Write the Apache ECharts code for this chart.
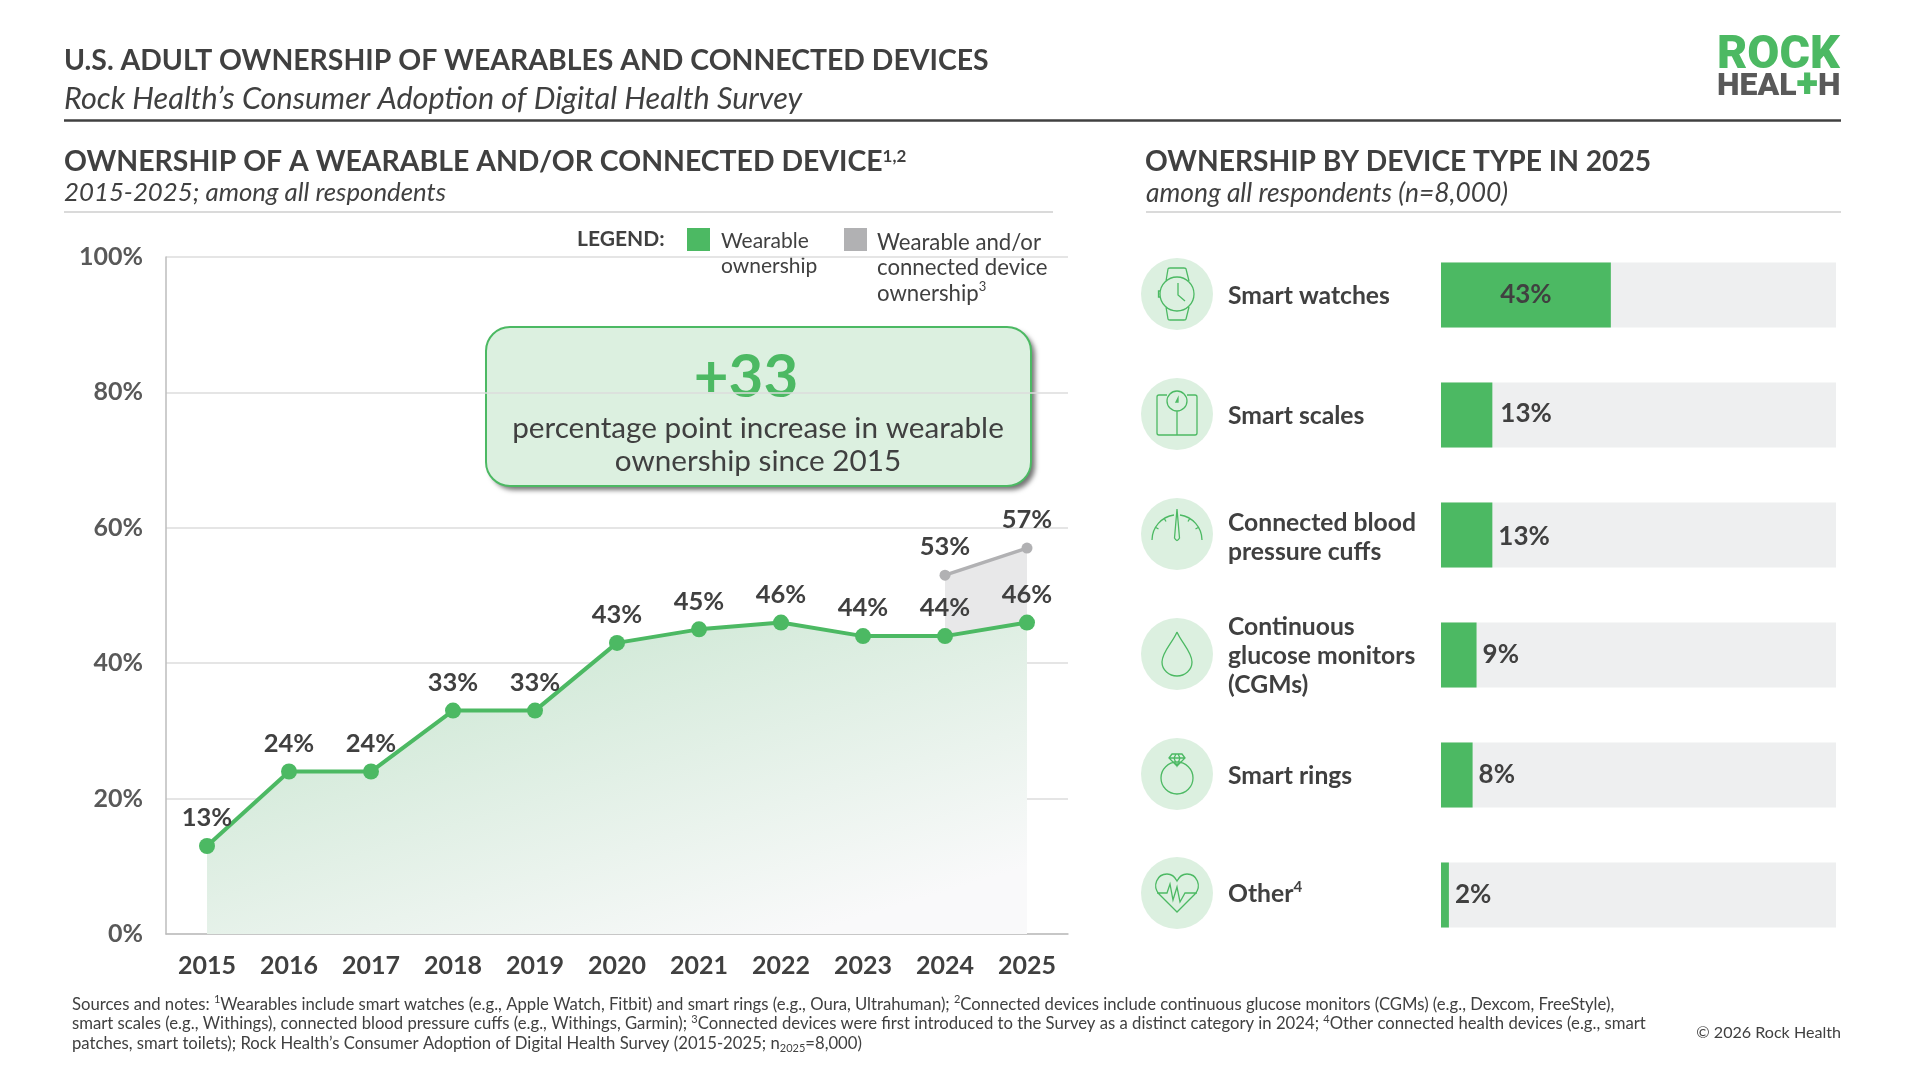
<!DOCTYPE html>
<html>
<head>
<meta charset="utf-8">
<title>U.S. adult ownership of wearables and connected devices</title>
<script src="https://cdn.jsdelivr.net/npm/echarts@6/dist/echarts.min.js"></script>
<style>
  html, body { margin: 0; padding: 0; background: #fff; }
  #chart { width: 1920px; height: 1080px; }
</style>
</head>
<body>
<div id="chart"></div>
<script>
// Survey years and percentages
const years = ['2015', '2016', '2017', '2018', '2019', '2020', '2021', '2022', '2023', '2024', '2025'];
const wearableOwnership = [13, 24, 24, 33, 33, 43, 45, 46, 44, 44, 46];
const wearableOrConnected = [null, null, null, null, null, null, null, null, null, 53, 57];
const percentTicks = [0, 20, 40, 60, 80, 100];

// Device types in 2025
const deviceTypes = ['Smart watches', 'Smart scales', 'Connected blood\npressure cuffs', 'Continuous\nglucose monitors\n(CGMs)', 'Smart rings', 'Other{sup|4}'];
const deviceOwnership = [43, 13, 13, 9, 8, 2];

const FONT = 'Lato';
const INK = '#404040';
const GREEN = '#4CB963';
const MINT = '#DCF0E0';
const GREY = '#B1B1B3';

const text = (x, y, str, size, extra) => ({
  type: 'text', x, y,
  style: Object.assign({ text: str, fontFamily: FONT, fontSize: size, fill: INK, verticalAlign: 'middle', align: 'left' }, extra || {})
});
const rule = (x1, x2, y, color, width) => ({
  type: 'line', shape: { x1, y1: y, x2, y2: y }, style: { stroke: color, lineWidth: width }
});

// Small circle as a path fragment, for use in the icon outlines
const ring = (cx, cy, r) => `M${cx + r} ${cy}A${r} ${r} 0 1 1 ${cx - r} ${cy}A${r} ${r} 0 1 1 ${cx + r} ${cy}`;
// Device icon outlines, centred on the origin, registered as graphic shapes
const iconOutlines = [
  // watch
  ring(0, 0, 17) + 'M-11 -13L-9 -25Q-9 -26 -7 -26L7 -26Q9 -26 9 -25L12 -13M-11 13L-9 25Q-9 26 -7 26L7 26Q9 26 9 25L12 13M-17 -3L-18.5 -3L-18.5 3L-17 3M1 -11L1 1L8 7',
  // bathroom scale
  ring(0, -13, 10) + 'M-10 -19L-18 -19Q-20 -19 -20 -17L-20 19Q-20 21 -18 21L18 21Q20 21 20 19L20 -17Q20 -19 18 -19L10 -19M0 -3L0 21M1 -16L-1 -12L1 -12Z',
  // blood pressure gauge
  'M-25 6A25.5 25.5 0 0 1 -3 -19M3 -19A25.5 25.5 0 0 1 25 6M-22 -7L-18.5 -5M-13 -16L-11 -12.5M22 -7L18.5 -5M13 -16L11 -12.5M0 -25L-2.5 4Q0 9 2.5 4L0 -25',
  // drop
  'M0 -22C-4 -12 -15 -2 -15 8C-15 16 -8 22 0 22C8 22 15 16 15 8C15 -2 4 -12 0 -22',
  // ring with a stone
  ring(0, 4, 16) + 'M-8 -16L-5 -20L5 -20L8 -16L0 -8ZM-8 -16L8 -16M-3 -16L0 -8L3 -16M-3 -16L-1 -20M3 -16L1 -20',
  // heart with a pulse trace
  'M0 19L-18 1C-25 -7 -20 -19 -10 -19C-5 -19 -2 -16 0 -12C2 -16 5 -19 10 -19C20 -19 25 -7 18 1ZM-20 0L-10 0L-7 -9L-4 7L0 -6L3 9L8 0L20 0'
];
const iconRows = [294, 414, 534, 654, 774, 893];
iconOutlines.forEach((d, i) => echarts.graphic.registerShape('deviceIcon' + i, echarts.graphic.extendPath(d, {})));

const icons = iconOutlines.map((d, i) => ({
  type: 'group', x: 1177, y: iconRows[i],
  children: [
    { type: 'circle', shape: { cx: 0, cy: 0, r: 36 }, style: { fill: MINT } },
    { type: 'deviceIcon' + i, style: { fill: null, stroke: GREEN, lineWidth: 1.3 } }
  ]
}));

// Per-row nudges for the labels beside the bars
const barLabelNudge = { 1: [2, -1], 2: [0, 2] };
const rowLabelPadding = { 2: [6, 0, 0, 0], 3: [3, 0, 0, 0], 5: [0, 0, 2, 0] };

const footnote =
  'Sources and notes: {s|1}Wearables include smart watches (e.g., Apple Watch, Fitbit) and smart rings (e.g., Oura, Ultrahuman); {s|2}Connected devices include continuous glucose monitors (CGMs) (e.g., Dexcom, FreeStyle),\n' +
  'smart scales (e.g., Withings), connected blood pressure cuffs (e.g., Withings, Garmin); {s|3}Connected devices were first introduced to the Survey as a distinct category in 2024; {s|4}Other connected health devices (e.g., smart\n' +
  'patches, smart toilets); Rock Health\u2019s Consumer Adoption of Digital Health Survey (2015-2025; n{b|2025}=8,000)';

const calloutBox = { x: 486, y: 327, width: 545, height: 159, r: 24 };

const chart = echarts.init(document.getElementById('chart'), null, { renderer: 'canvas' });
chart.setOption({
  animation: false,
  backgroundColor: '#fff',
  textStyle: { fontFamily: FONT },
  grid: [
    { left: 166, top: 257, width: 902, height: 677 },
    { left: 1441, top: 235, width: 395, height: 720 }
  ],
  xAxis: [
    {
      gridIndex: 0, type: 'category', data: years,
      axisTick: { show: false },
      axisLine: { lineStyle: { color: '#BDBDBD', width: 1.5 } },
      axisLabel: { fontFamily: FONT, fontSize: 25, fontWeight: 'bold', color: INK, margin: 19 }
    },
    { gridIndex: 1, type: 'value', min: 0, max: 100, show: false }
  ],
  yAxis: [
    {
      gridIndex: 0, type: 'value', min: 0, max: 100, interval: 20,
      axisLine: { show: true, lineStyle: { color: '#BDBDBD', width: 1.5 } },
      axisTick: { show: false },
      axisLabel: {
        fontFamily: FONT, fontSize: 25, fontWeight: 'bold', color: '#595959', margin: 23,
        formatter: (v) => percentTicks.includes(v) ? v + '%' : ''
      },
      splitLine: { lineStyle: { color: '#DCDCDC', width: 1.5 } }
    },
    {
      gridIndex: 1, type: 'category', inverse: true,
      data: deviceTypes.map((value, i) => ({ value, textStyle: { align: 'left', padding: rowLabelPadding[i] || [2, 0, 0, 0] } })),
      axisLine: { show: false }, axisTick: { show: false },
      axisLabel: {
        align: 'left', margin: 213, fontFamily: FONT, fontSize: 24.7, fontWeight: 'bold', color: INK, lineHeight: 29,
        rich: { sup: { fontFamily: FONT, fontSize: 15, fontWeight: 'bold', lineHeight: 16, color: INK, verticalAlign: 'top' } }
      }
    }
  ],
  series: [
    {
      name: 'Wearable and/or connected device ownership', type: 'line', xAxisIndex: 0, yAxisIndex: 0,
      data: wearableOrConnected, z: 3,
      symbol: 'circle', symbolSize: 11,
      lineStyle: { color: GREY, width: 3.5 }, itemStyle: { color: GREY },
      areaStyle: { color: '#E8E8E9', opacity: 1 },
      label: { show: true, position: 'top', distance: 10, fontFamily: FONT, fontSize: 25.5, fontWeight: 'bold', color: INK, formatter: '{c}%' }
    },
    {
      name: 'Wearable ownership', type: 'line', xAxisIndex: 0, yAxisIndex: 0,
      data: wearableOwnership, z: 4,
      symbol: 'circle', symbolSize: 16,
      lineStyle: { color: GREEN, width: 4 }, itemStyle: { color: GREEN },
      areaStyle: {
        opacity: 1,
        color: new echarts.graphic.LinearGradient(0, 0, 0.167, 1.45, [
          { offset: 0, color: '#C4E4CC' },
          { offset: 1, color: '#F9F9FA' }
        ])
      },
      label: { show: true, position: 'top', distance: 7, fontFamily: FONT, fontSize: 25.5, fontWeight: 'bold', color: INK, formatter: '{c}%' }
    },
    {
      name: '2025 device ownership', type: 'bar', xAxisIndex: 1, yAxisIndex: 1,
      data: deviceOwnership.map((value, i) => ({
        value,
        label: i === 0 ? { position: 'inside' } : { position: 'right', distance: 6, offset: barLabelNudge[i] || [0, 0] }
      })),
      barWidth: 65,
      showBackground: true, backgroundStyle: { color: '#EEEFF0' },
      itemStyle: { color: GREEN },
      label: { show: true, fontFamily: FONT, fontSize: 26, fontWeight: 'bold', color: INK, formatter: '{c}%' }
    }
  ],
  graphic: { elements: [
    // Header
    text(64, 61, 'U.S. ADULT OWNERSHIP OF WEARABLES AND CONNECTED DEVICES', 28.4, { fontWeight: 'bold' }),
    text(64, 99, 'Rock Health\u2019s Consumer Adoption of Digital Health Survey', 30.6, { fontStyle: 'italic' }),
    rule(64, 1841, 120.5, INK, 2.5),

    // Logo
    text(1717, 56, 'ROCK', 46.5, { fontFamily: 'Roboto', fontWeight: 900, fill: GREEN }),
    { type: 'text', x: 1717, y: 87, style: {
      text: 'HEAL{p|+}H', fontFamily: 'Roboto', fontWeight: 900, fontSize: 32, fill: '#595959', verticalAlign: 'middle',
      rich: { p: { fontFamily: 'Roboto', fontWeight: 900, fontSize: 40, fill: GREEN } }
    } },

    // Section headings
    { type: 'text', x: 64, y: 162, style: {
      text: 'OWNERSHIP OF A WEARABLE AND/OR CONNECTED DEVICE{s|1,2}', fontFamily: FONT, fontSize: 28.4, fontWeight: 'bold', fill: INK, verticalAlign: 'middle',
      rich: { s: { fontFamily: FONT, fontWeight: 'bold', fontSize: 17, lineHeight: 18, fill: INK, verticalAlign: 'top' } }
    } },
    text(64, 193, '2015-2025; among all respondents', 25.8, { fontStyle: 'italic' }),
    rule(64, 1053, 212, '#B5B5B5', 1.2),
    text(1145, 162, 'OWNERSHIP BY DEVICE TYPE IN 2025', 28.2, { fontWeight: 'bold' }),
    text(1146, 193, 'among all respondents (n=8,000)', 26.4, { fontStyle: 'italic' }),
    rule(1146, 1841, 212, '#B5B5B5', 1.2),

    // Legend panel, masking the top gridline
    { type: 'rect', shape: { x: 562, y: 226, width: 504, height: 72 }, style: { fill: '#fff' } },
    text(577, 239, 'LEGEND:', 21, { fontWeight: 'bold' }),
    { type: 'rect', shape: { x: 687, y: 228, width: 23, height: 23 }, style: { fill: GREEN } },
    text(721, 254, 'Wearable\nownership', 21, { lineHeight: 25 }),
    { type: 'rect', shape: { x: 844, y: 228, width: 23, height: 23 }, style: { fill: GREY } },
    { type: 'text', x: 877, y: 268, style: {
      text: 'Wearable and/or\nconnected device\nownership{s|3}', fontFamily: FONT, fontSize: 22.2, lineHeight: 25.5, fill: INK, verticalAlign: 'middle',
      rich: { s: { fontFamily: FONT, fontSize: 13, lineHeight: 14, fill: INK, verticalAlign: 'top' } }
    } },

    // Callout: shadow and border are separate rects so the border's shadow stays off the fill
    { type: 'rect', shape: calloutBox,
      style: { fill: MINT, shadowBlur: 5, shadowOffsetX: 4, shadowOffsetY: 4, shadowColor: 'rgba(0,0,0,0.55)' } },
    { type: 'rect', shape: calloutBox, style: { fill: MINT, stroke: GREEN, lineWidth: 2 } },
    text(746, 378, '+33', 60, { fontWeight: 'bold', fill: GREEN, align: 'center' }),
    text(758, 445, 'percentage point increase in wearable\nownership since 2015', 29.7, { align: 'center', lineHeight: 33 }),

    ...icons,

    // Footer
    { type: 'text', x: 72, y: 1024, style: {
      text: footnote, fontFamily: FONT, fontSize: 16.7, lineHeight: 19.7, fill: INK, verticalAlign: 'middle',
      rich: {
        s: { fontFamily: FONT, fontSize: 11, lineHeight: 12, fill: INK, verticalAlign: 'top' },
        b: { fontFamily: FONT, fontSize: 11, lineHeight: 12, fill: INK, verticalAlign: 'bottom' }
      }
    } },
    text(1841, 1033, '\u00A9 2026 Rock Health', 16.1, { align: 'right' })
  ] }
});
</script>
</body>
</html>
